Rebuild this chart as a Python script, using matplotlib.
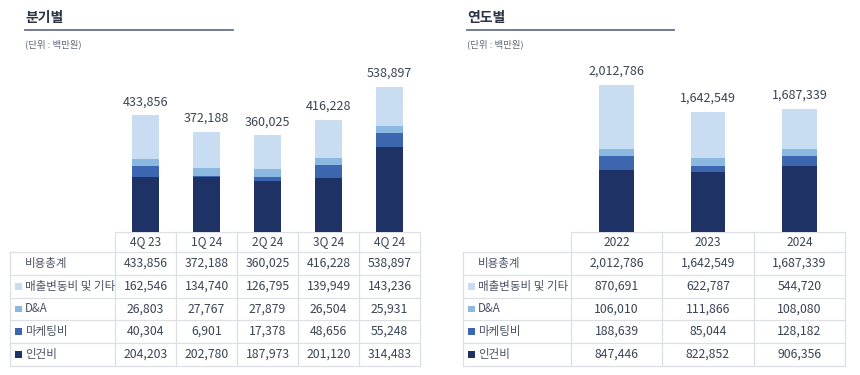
import numpy as np
import matplotlib
matplotlib.use("Agg")
import matplotlib.pyplot as plt
from matplotlib.patches import Rectangle

plt.rcParams['font.family'] = ['Noto Sans CJK KR', 'DejaVu Sans']

# ---------------------------------------------------------
# Data (단위 : 백만원)
# ---------------------------------------------------------
series_names = ["매출변동비 및 기타", "D&A", "마케팅비", "인건비"]
series_colors = ["#C8DDF1", "#8BB8E0", "#3C66B0", "#1E3266"]
total_label = "비용총계"

quarters = ["4Q 23", "1Q 24", "2Q 24", "3Q 24", "4Q 24"]
q_total = [433856, 372188, 360025, 416228, 538897]
q_other = [162546, 134740, 126795, 139949, 143236]
q_da = [26803, 27767, 27879, 26504, 25931]
q_marketing = [40304, 6901, 17378, 48656, 55248]
q_labor = [204203, 202780, 187973, 201120, 314483]

years = ["2022", "2023", "2024"]
y_total = [2012786, 1642549, 1687339]
y_other = [870691, 622787, 544720]
y_da = [106010, 111866, 108080]
y_marketing = [188639, 85044, 128182]
y_labor = [847446, 822852, 906356]

TEXT = "#3A4454"
GRID = "#DCE0E5"

W, H = 860, 375
fig = plt.figure(figsize=(W / 100, H / 100), dpi=100)
fig.patch.set_facecolor("white")

# overlay axes in pixel coordinates for titles and tables
ov = fig.add_axes([0, 0, 1, 1])
ov.set_xlim(0, W)
ov.set_ylim(H, 0)
ov.axis("off")

rows_y = [232, 252, 275, 298, 320, 343, 366]


def panel(title, x_title, under_end, x_lab, x_col0, x_end, cats, total, parts,
          bar_w, top_ratio):
    # title + underline + unit
    ov.text(x_title, 18, title, fontsize=10, fontweight="bold", color="#2B3445",
            va="center", ha="left")
    ov.plot([x_title, under_end], [29.5, 29.5], color="#667289", lw=1.3)
    ov.text(x_title, 44, "(단위 : 백만원)", fontsize=6.8, color="#5F6878",
            va="center", ha="left")

    n = len(cats)
    # stacked bars
    ax = fig.add_axes([x_col0 / W, 1 - 232 / H, (x_end - x_col0) / W, 172 / H])
    ax.set_xlim(-0.5, n - 0.5)
    ax.set_ylim(0, max(total) * top_ratio)
    ax.axis("off")
    x = np.arange(n)
    bottom = np.zeros(n)
    stack = list(zip(parts, series_colors))[::-1]  # 인건비 at bottom
    for vals, col in stack:
        ax.bar(x, vals, bottom=bottom, width=bar_w, color=col, linewidth=0)
        bottom += np.array(vals)
    for i, t in enumerate(total):
        ax.annotate(f"{t:,}", (i, t), xytext=(0, 5), textcoords="offset points",
                    ha="center", va="bottom", fontsize=9, color=TEXT,
                    fontweight="medium")

    # table
    col_w = (x_end - x_col0) / n
    ov.plot([x_col0, x_end], [rows_y[0]] * 2, color=GRID, lw=0.9)
    for yy in rows_y[1:]:
        ov.plot([x_lab, x_end], [yy, yy], color=GRID, lw=0.9)
    ov.plot([x_lab, x_lab], [rows_y[1], rows_y[-1]], color=GRID, lw=0.9)
    for j in range(n + 1):
        xx = x_col0 + j * col_w
        ov.plot([xx, xx], [rows_y[0], rows_y[-1]], color=GRID, lw=0.9)

    yc = [(rows_y[k] + rows_y[k + 1]) / 2 for k in range(len(rows_y) - 1)]
    for j, c in enumerate(cats):
        ov.text(x_col0 + (j + 0.5) * col_w, yc[0], c, ha="center", va="center",
                fontsize=8.6, color=TEXT)

    table_rows = [(total_label, total, None)] + \
        [(nm, v, col) for nm, v, col in zip(series_names, parts, series_colors)]
    for k, (nm, vals, col) in enumerate(table_rows):
        y = yc[k + 1]
        if col is not None:
            ov.add_patch(Rectangle((x_lab + 5, y - 3.3), 6.6, 6.6, color=col, lw=0))
        ov.text(x_lab + 15, y, nm, ha="left", va="center", fontsize=8.3,
                color="#4A5363")
        for j, v in enumerate(vals):
            ov.text(x_col0 + (j + 0.5) * col_w, y, f"{v:,}", ha="center",
                    va="center", fontsize=8.8, color=TEXT)


panel("분기별", 25, 233, 10, 115, 420, quarters, q_total,
      [q_other, q_da, q_marketing, q_labor], 0.43, 172 / 145)
panel("연도별", 467, 674, 463, 571, 845, years, y_total,
      [y_other, y_da, y_marketing, y_labor], 0.38, 172 / 147)

fig.savefig("out.png", dpi=100, facecolor="white")
